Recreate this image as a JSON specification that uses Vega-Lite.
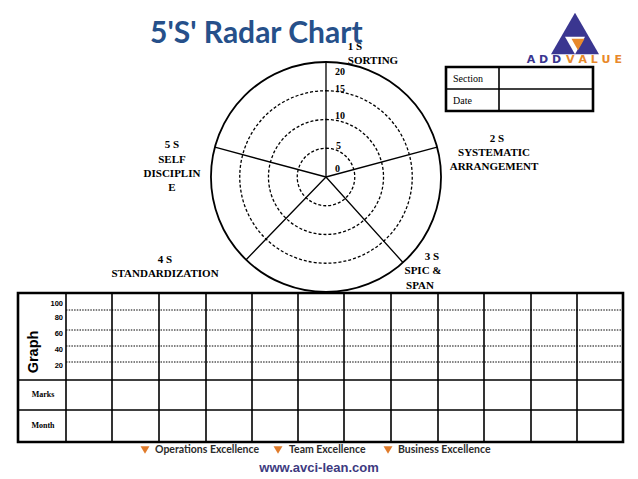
{
  "$schema": "https://vega.github.io/schema/vega-lite/v6.json",
  "width": 638,
  "height": 479,
  "padding": 0,
  "autosize": {"type": "fit", "contains": "padding"},
  "background": "white",
  "config": {"view": {"stroke": null}},
  "datasets": {
    "boxes": [
      {"x": 18, "x2": 623, "y": 293, "y2": 442},
      {"x": 446, "x2": 593, "y": 67, "y2": 111}
    ],
    "solidLines": [
      {"x": 18, "x2": 623, "y": 380, "y2": 380},
      {"x": 18, "x2": 623, "y": 410, "y2": 410},
      {"x": 446, "x2": 593, "y": 89, "y2": 89},
      {"x": 499, "x2": 499, "y": 67, "y2": 111},
      {"x": 66, "x2": 66, "y": 293, "y2": 442},
      {"x": 112, "x2": 112, "y": 293, "y2": 442},
      {"x": 159, "x2": 159, "y": 293, "y2": 442},
      {"x": 206, "x2": 206, "y": 293, "y2": 442},
      {"x": 252, "x2": 252, "y": 293, "y2": 442},
      {"x": 298, "x2": 298, "y": 293, "y2": 442},
      {"x": 344, "x2": 344, "y": 293, "y2": 442},
      {"x": 391, "x2": 391, "y": 293, "y2": 442},
      {"x": 438, "x2": 438, "y": 293, "y2": 442},
      {"x": 484, "x2": 484, "y": 293, "y2": 442},
      {"x": 531, "x2": 531, "y": 293, "y2": 442},
      {"x": 577, "x2": 577, "y": 293, "y2": 442}
    ],
    "dotLines": [
      {"x": 66, "x2": 623, "y": 310, "y2": 310},
      {"x": 66, "x2": 623, "y": 330, "y2": 330},
      {"x": 66, "x2": 623, "y": 346, "y2": 346},
      {"x": 66, "x2": 623, "y": 362, "y2": 362}
    ],
    "rings": [
      {"x": 326, "y": 177, "r": 5},
      {"x": 326, "y": 177, "r": 10},
      {"x": 326, "y": 177, "r": 15}
    ],
    "outer": [{"x": 326, "y": 177, "r": 20}],
    "spokes": [
      {"x": 326, "y": 177, "r": 20, "angle": 0},
      {"x": 326, "y": 177, "r": 20, "angle": 75},
      {"x": 326, "y": 177, "r": 20, "angle": 138},
      {"x": 326, "y": 177, "r": 20, "angle": 224},
      {"x": 326, "y": 177, "r": 20, "angle": 285}
    ],
    "title": [{"x": 150, "y": 43, "text": "5'S' Radar Chart"}],
    "categoryLabels": [
      {"x": 355, "y": 47, "text": "1 S"},
      {"x": 373, "y": 61, "text": "SORTING"},
      {"x": 497, "y": 139, "text": "2 S"},
      {"x": 494, "y": 153, "text": "SYSTEMATIC"},
      {"x": 494, "y": 167, "text": "ARRANGEMENT"},
      {"x": 432, "y": 257, "text": "3 S"},
      {"x": 423, "y": 271, "text": "SPIC &"},
      {"x": 420, "y": 286, "text": "SPAN"},
      {"x": 165, "y": 260, "text": "4 S"},
      {"x": 165, "y": 274, "text": "STANDARDIZATION"},
      {"x": 172, "y": 145, "text": "5 S"},
      {"x": 172, "y": 160, "text": "SELF"},
      {"x": 172, "y": 174, "text": "DISCIPLIN"},
      {"x": 172, "y": 188, "text": "E"}
    ],
    "ringLabels": [
      {"x": 335, "y": 72, "text": "20"},
      {"x": 335, "y": 89, "text": "15"},
      {"x": 335, "y": 116, "text": "10"},
      {"x": 336, "y": 146, "text": "5"},
      {"x": 335, "y": 169, "text": "0"}
    ],
    "formLabels": [
      {"x": 453, "y": 79, "text": "Section"},
      {"x": 453, "y": 101, "text": "Date"}
    ],
    "rowLabels": [
      {"x": 43, "y": 395, "text": "Marks"},
      {"x": 43, "y": 426, "text": "Month"}
    ],
    "graphTicks": [
      {"x": 63, "y": 304, "text": "100"},
      {"x": 63, "y": 318, "text": "80"},
      {"x": 63, "y": 334, "text": "60"},
      {"x": 63, "y": 350, "text": "40"},
      {"x": 63, "y": 366, "text": "20"}
    ],
    "graphTitle": [{"x": 34, "y": 352, "text": "Graph"}],
    "legendMarks": [
      {"x": 145, "y": 450},
      {"x": 278, "y": 450},
      {"x": 388, "y": 450}
    ],
    "legendText": [
      {"x": 155, "y": 450, "text": "Operations Excellence"},
      {"x": 289, "y": 450, "text": "Team Excellence"},
      {"x": 398, "y": 450, "text": "Business Excellence"}
    ],
    "url": [{"x": 319, "y": 468, "text": "www.avci-lean.com"}],
    "logoBlue": [{"x": 575, "y": 33.5}],
    "logoWhite": [{"x": 575, "y": 45.5}],
    "logoOrange": [{"x": 578, "y": 44.5}],
    "logoAdd": [{"x": 544, "y": 60, "text": "A D D"}],
    "logoValue": [{"x": 594, "y": 60, "text": "V A L U E"}]
  },
  "encoding": {
    "x": {"field": "x", "type": "quantitative", "scale": {"domain": [0, 638], "nice": false, "zero": false}, "axis": null},
    "y": {"field": "y", "type": "quantitative", "scale": {"domain": [0, 479], "nice": false, "zero": false, "reverse": true}, "axis": null}
  },
  "layer": [
    {
      "data": {"name": "dotLines"},
      "mark": {"type": "rule", "stroke": "black", "strokeWidth": 1, "strokeDash": [1.5, 1.2]},
      "encoding": {"x2": {"field": "x2"}, "y2": {"field": "y2"}}
    },
    {
      "data": {"name": "solidLines"},
      "mark": {"type": "rule", "stroke": "black", "strokeWidth": 1.6},
      "encoding": {"x2": {"field": "x2"}, "y2": {"field": "y2"}}
    },
    {
      "data": {"name": "boxes"},
      "mark": {"type": "rect", "filled": false, "stroke": "black", "strokeWidth": 2.6},
      "encoding": {"x2": {"field": "x2"}, "y2": {"field": "y2"}}
    },
    {
      "data": {"name": "rings"},
      "mark": {"type": "arc", "filled": false, "stroke": "black", "strokeWidth": 1.3, "strokeDash": [3, 2], "theta": 0, "theta2": 6.2832},
      "encoding": {
        "radius": {"field": "r", "type": "quantitative", "stack": null, "scale": {"type": "linear", "domain": [0, 20], "range": [0, 115], "zero": true}}
      }
    },
    {
      "data": {"name": "outer"},
      "mark": {"type": "arc", "filled": false, "stroke": "black", "strokeWidth": 1.8, "theta": 0, "theta2": 6.2832},
      "encoding": {
        "radius": {"field": "r", "type": "quantitative", "stack": null, "scale": {"type": "linear", "domain": [0, 20], "range": [0, 115], "zero": true}}
      }
    },
    {
      "data": {"name": "spokes"},
      "mark": {"type": "arc", "filled": false, "stroke": "black", "strokeWidth": 1.3},
      "encoding": {
        "theta": {"field": "angle", "type": "quantitative", "stack": null, "scale": {"domain": [0, 360], "range": [0, 6.283185]}},
        "theta2": {"field": "angle"},
        "radius": {"field": "r", "type": "quantitative", "stack": null, "scale": {"type": "linear", "domain": [0, 20], "range": [0, 115], "zero": true}}
      }
    },
    {
      "data": {"name": "title"},
      "mark": {"type": "text", "align": "left", "baseline": "alphabetic", "font": "Lato", "fontWeight": "bold", "fontSize": 30, "color": "#26508a"},
      "encoding": {"text": {"field": "text"}}
    },
    {
      "data": {"name": "categoryLabels"},
      "mark": {"type": "text", "align": "center", "baseline": "middle", "font": "Liberation Serif", "fontWeight": "bold", "fontSize": 11, "color": "black"},
      "encoding": {"text": {"field": "text"}}
    },
    {
      "data": {"name": "ringLabels"},
      "mark": {"type": "text", "align": "left", "baseline": "middle", "font": "Liberation Serif", "fontWeight": "bold", "fontSize": 10, "color": "black"},
      "encoding": {"text": {"field": "text"}}
    },
    {
      "data": {"name": "formLabels"},
      "mark": {"type": "text", "align": "left", "baseline": "middle", "font": "Liberation Serif", "fontSize": 10, "color": "black"},
      "encoding": {"text": {"field": "text"}}
    },
    {
      "data": {"name": "rowLabels"},
      "mark": {"type": "text", "align": "center", "baseline": "middle", "font": "Liberation Serif", "fontWeight": "bold", "fontSize": 8, "color": "black"},
      "encoding": {"text": {"field": "text"}}
    },
    {
      "data": {"name": "graphTicks"},
      "mark": {"type": "text", "align": "right", "baseline": "middle", "font": "Liberation Sans", "fontWeight": "bold", "fontSize": 7.5, "color": "black"},
      "encoding": {"text": {"field": "text"}}
    },
    {
      "data": {"name": "graphTitle"},
      "mark": {"type": "text", "align": "center", "baseline": "middle", "angle": 270, "font": "Liberation Sans", "fontWeight": "bold", "fontSize": 14.5, "color": "black"},
      "encoding": {"text": {"field": "text"}}
    },
    {
      "data": {"name": "legendMarks"},
      "mark": {"type": "point", "shape": "triangle-down", "filled": true, "size": 80, "color": "#e07b2a", "opacity": 1},
      "encoding": {}
    },
    {
      "data": {"name": "legendText"},
      "mark": {"type": "text", "align": "left", "baseline": "middle", "font": "Lato", "fontWeight": "bold", "fontSize": 10.5, "color": "#2b2b2b"},
      "encoding": {"text": {"field": "text"}}
    },
    {
      "data": {"name": "url"},
      "mark": {"type": "text", "align": "center", "baseline": "middle", "font": "Liberation Sans", "fontWeight": "bold", "fontSize": 13, "color": "#3d3a80"},
      "encoding": {"text": {"field": "text"}}
    },
    {
      "data": {"name": "logoBlue"},
      "mark": {"type": "point", "shape": "triangle-up", "filled": true, "size": 2304, "color": "#3a3690", "opacity": 1},
      "encoding": {}
    },
    {
      "data": {"name": "logoWhite"},
      "mark": {"type": "point", "shape": "triangle-down", "filled": true, "size": 400, "color": "white", "opacity": 1},
      "encoding": {}
    },
    {
      "data": {"name": "logoOrange"},
      "mark": {"type": "point", "shape": "triangle-down", "filled": true, "size": 170, "color": "#e8892b", "opacity": 1},
      "encoding": {}
    },
    {
      "data": {"name": "logoAdd"},
      "mark": {"type": "text", "align": "center", "baseline": "middle", "font": "DejaVu Sans", "fontWeight": "bold", "fontSize": 11, "color": "#3a3690"},
      "encoding": {"text": {"field": "text"}}
    },
    {
      "data": {"name": "logoValue"},
      "mark": {"type": "text", "align": "center", "baseline": "middle", "font": "DejaVu Sans", "fontWeight": "bold", "fontSize": 11, "color": "#e8892b"},
      "encoding": {"text": {"field": "text"}}
    }
  ]
}
